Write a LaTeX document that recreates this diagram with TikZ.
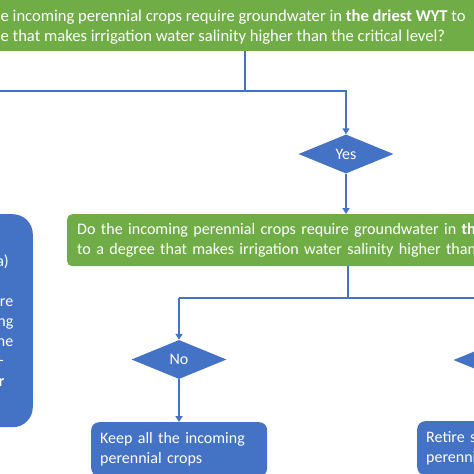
\documentclass[tikz,border=0pt]{standalone}
\usepackage{fontspec}
\setmainfont{Carlito}
\usetikzlibrary{shapes.geometric,arrows.meta,calc}
\definecolor{ogreen}{HTML}{70AD47}
\definecolor{oblue}{HTML}{4472C4}
\begin{document}
\begin{tikzpicture}[x=1pt,y=-1pt,
  txt/.style={font=\fontsize{16}{19.5}\selectfont, text=white},
  bigtxt/.style={font=\fontsize{16.6}{19.8}\selectfont, text=white},
  gbox/.style={txt, fill=ogreen, draw=none, rounded corners=5pt, inner ysep=0pt, align=left},
  bbox/.style={txt, fill=oblue, draw=none, rounded corners=8pt, inner ysep=0pt, align=left},
  dia/.style={txt, diamond, fill=oblue, draw=none, minimum width=95pt, minimum height=39pt, inner sep=0pt},
  conn/.style={draw=oblue, line width=2pt},
  arr/.style={conn, -{Triangle[width=7pt,length=6pt]}},
  frag/.style={txt, inner sep=0pt, anchor=base east}]
\useasboundingbox (0,0) rectangle (474,474);
% top question box (cut by the frame)
\node[gbox, minimum width=520pt, minimum height=70pt, anchor=south west] (top) at (-20,51) {};
\node[bigtxt, inner sep=0pt, anchor=west, align=left] (toptext) at (0.5,27.5) {e incoming perennial crops require groundwater in \textbf{the driest WYT} to\\e that makes irrigation water salinity higher than the critical level?};
% junction below the top box
\coordinate (j1) at (245,90.5);
\coordinate (jl) at (-5,90.5);
% Yes diamond
\node[dia] (yes) at (346,154) {Yes};
\draw[conn] (j1 |- top.south) -- (j1);
\draw[arr] (jl) -- (jl -| yes.north) -- (yes.north);
% second question box
\node[gbox, font=\fontsize{16.1}{19.5}\selectfont, anchor=north west, minimum height=52pt, text width=470pt, inner xsep=10pt] (q2) at (67,214) {Do the incoming perennial crops require groundwater in \textbf{th}\\to a degree that makes irrigation water salinity higher than};
\draw[arr] (yes.south) -- (yes.south |- q2.north);
% junction below the second box
\coordinate (j2) at (348,297.5);
\node[dia] (no) at (179,359.5) {No};
\node[dia] (ret) at (501,360) {};
\draw[conn] (j2 |- q2.south) -- (j2);
\draw[conn] (j2 -| ret.north) -- (j2 -| no.north);
\draw[arr] (j2 -| no.north) -- (no.north);
\draw[arr] (j2 -| ret.north) -- (ret.north);
% outcome boxes
\node[bbox, anchor=north west, minimum height=54pt, text width=158pt, inner xsep=9pt] (keep) at (91,422) {Keep all the incoming\\perennial crops};
\node[bbox, anchor=north west, minimum height=54pt, text width=160pt, inner xsep=9pt] (retire) at (417,421) {Retire s\\perenni};
\draw[arr] (no.south) -- (no.south |- keep.north);
\draw[arr] (ret.south) -- (ret.south |- retire.north);
% left box (cut by the frame)
\node[bbox, rounded corners=20pt, anchor=north east, minimum width=90pt, minimum height=213pt] (left) at (33,214) {};
\node[frag] (fa) at (9,266) {a)};
\node[frag] (fb) at (13.5,306) {re};
\node[frag] (fc) at (13.5,326) {ng};
\node[frag] (fd) at (13.5,346) {ne};
\node[frag] (fe) at (4,365) {-};
\node[frag] (ff) at (4.5,386) {\textbf{r}};
\end{tikzpicture}
\end{document}
